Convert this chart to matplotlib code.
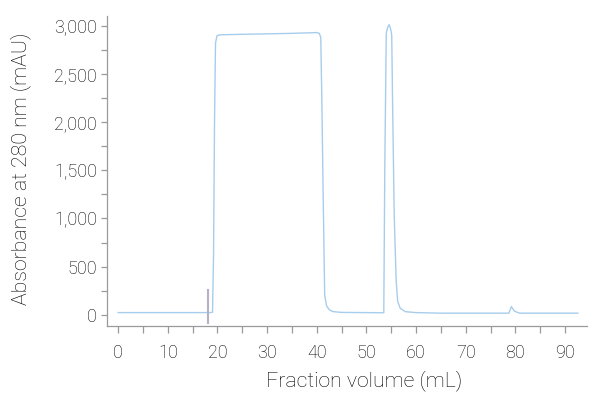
import matplotlib
matplotlib.use("Agg")
import matplotlib.pyplot as plt
from matplotlib.ticker import MultipleLocator, FuncFormatter

# Chromatogram trace (fraction volume in mL, absorbance in mAU)
volume = [0, 18.6, 19.0, 19.2, 19.4, 19.6, 19.9, 20.5, 25, 30, 35, 40.0, 40.5,
          40.8, 41.0, 41.3, 41.6, 42.0, 42.6, 43.3, 45, 50, 53.5, 53.7, 54.0,
          54.3, 54.6, 54.9, 55.1, 55.3, 55.6, 56.0, 56.3, 56.8, 57.8, 60, 65,
          78.7, 79.2, 79.8, 80.8, 92.6]
absorbance = [24, 24, 28, 600, 2000, 2820, 2895, 2905, 2910, 2915, 2920, 2928, 2920,
              2880, 2300, 1200, 200, 90, 50, 34, 26, 24, 22, 1500, 2920,
              2985, 3010, 2960, 2900, 2100, 1040, 350, 140, 70, 34, 24, 18,
              18, 86, 40, 18, 18]

# Injection marker
marker_x = 18
marker_y = [-85, 260]

xticks = list(range(0, 95, 10))
yticks = list(range(0, 3001, 500))

plt.rcParams['font.family'] = ['Roboto', 'DejaVu Sans']
fig = plt.figure(figsize=(6, 4), dpi=100)
ax = fig.add_axes([0.178, 0.185, 0.8, 0.775])

ax.plot(volume, absorbance, color='#a7cdec', lw=1.0)
ax.plot([marker_x, marker_x], marker_y, color='#b4b0c6', lw=1.5)

ax.set_xlim(-2.3, 94.4)
ax.set_ylim(-115, 3100)
ax.set_xticks(xticks)
ax.set_yticks(yticks)
ax.xaxis.set_minor_locator(MultipleLocator(5))
ax.yaxis.set_minor_locator(MultipleLocator(250))
ax.yaxis.set_major_formatter(FuncFormatter(lambda v, p: f"{int(v):,}"))

gray = '#9a9a9a'
for s in ['top', 'right']:
    ax.spines[s].set_visible(False)
for s in ['left', 'bottom']:
    ax.spines[s].set_color(gray)
    ax.spines[s].set_linewidth(0.9)
ax.tick_params(which='both', color=gray, width=0.9)
ax.tick_params(axis='y', which='both', length=4, pad=3)
ax.tick_params(axis='x', which='both', length=5, pad=8)
ax.tick_params(labelsize=13, labelcolor='#000000')
for lab in ax.get_xticklabels() + ax.get_yticklabels():
    lab.set_fontweight('light')

ax.set_xlabel('Fraction volume (mL)', fontsize=15.3, color='#000000',
              fontweight='light')
ax.set_ylabel('Absorbance at 280 nm (mAU)', fontsize=15.3, color='#000000',
              fontweight='light')
ax.xaxis.set_label_coords((364 - 107) / 480, -(369 - 325) / 310)
ax.yaxis.set_label_coords(-(107 - 31) / 480, (325 - 168) / 310)

fig.savefig('out.png', dpi=100)
